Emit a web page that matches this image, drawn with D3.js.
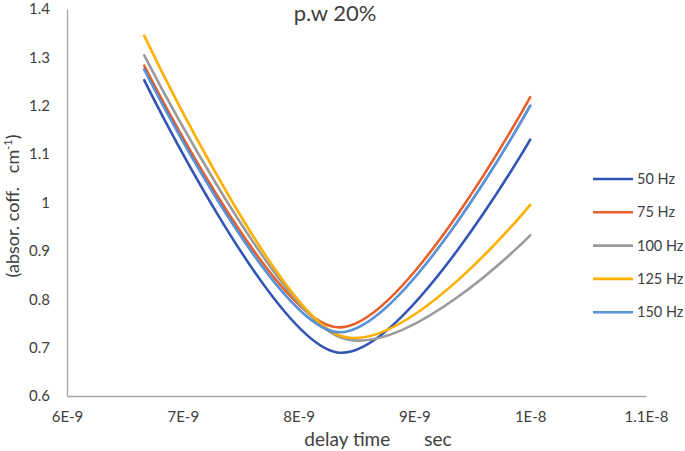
<!DOCTYPE html>
<html><head><meta charset="utf-8">
<script src="https://cdn.jsdelivr.net/npm/d3@7"></script>
<style>body{margin:0;background:#fff;font-family:Lato,"Open Sans",sans-serif;}</style>
</head><body><svg id="c" width="685" height="451"></svg>
<script>
const delays = [6.667e-9, 8.333e-9, 1e-8];
const seriesNames = ["50 Hz", "75 Hz", "100 Hz", "125 Hz", "150 Hz"];
const s50  = [1.253, 0.690, 1.130];
const s75  = [1.283, 0.742, 1.218];
const s100 = [1.304, 0.724, 0.932];
const s125 = [1.345, 0.727, 0.995];
const s150 = [1.275, 0.732, 1.200];
const colors = ["#3355b5", "#e8612c", "#9b9b9b", "#ffb000", "#4a7fd0"];
const xTicks = [6e-9, 7e-9, 8e-9, 9e-9, 1e-8, 1.1e-8];
const xTickLabels = ["6E-9", "7E-9", "8E-9", "9E-9", "1E-8", "1.1E-8"];
const yTicks = [0.6, 0.7, 0.8, 0.9, 1.0, 1.1, 1.2, 1.3, 1.4];
const yTickLabels = ["0.6", "0.7", "0.8", "0.9", "1", "1.1", "1.2", "1.3", "1.4"];

const allSeries = [s50, s75, s100, s125, s150];
const svg = d3.select("#c");
const x = d3.scaleLinear().domain([6e-9, 1.1e-8]).range([67, 646]);
const y = d3.scaleLinear().domain([0.6, 1.4]).range([396, 9]);
const F = "Lato, sans-serif";

// axes
const xAxis = d3.axisBottom(x).tickValues(xTicks).tickFormat((d, i) => xTickLabels[i]).tickSize(0).tickPadding(15);
const gx = svg.append("g").attr("transform", "translate(0,396)").call(xAxis);
gx.select(".domain").attr("stroke", "#a6a6a6").attr("stroke-width", 1.3);
gx.selectAll("text").attr("font-family", F).attr("font-size", 15).attr("fill", "#404040");

const yAxis = d3.axisLeft(y).tickValues(yTicks).tickFormat((d, i) => yTickLabels[i]).tickSize(0).tickPadding(17);
const gy = svg.append("g").attr("transform", "translate(67,0)").call(yAxis);
gy.select(".domain").attr("stroke", "#a6a6a6").attr("stroke-width", 1.3);
gy.selectAll("text").attr("font-family", F).attr("font-size", 15).attr("fill", "#404040");

// lines
const line = d3.line().x((d, i) => x(delays[i])).y(d => y(d)).curve(d3.curveCardinal.tension(0));
allSeries.forEach((s, k) => {
  svg.append("path").attr("d", line(s)).attr("fill", "none")
    .attr("stroke", colors[k]).attr("stroke-width", 2.6).attr("stroke-linecap", "round");
  if (k === 4) {
    svg.append("path").attr("d", line(s)).attr("fill", "none")
      .attr("stroke", "#5fa0dc").attr("stroke-width", 1.2);
  }
});

// title
svg.append("text").attr("x", 335).attr("y", 21).attr("text-anchor", "middle")
  .attr("font-family", F).attr("font-size", 22).attr("fill", "#404040").text("p.w 20%");

// x title
svg.append("text").attr("x", 378).attr("y", 446).attr("text-anchor", "middle")
  .attr("font-family", F).attr("font-size", 19).attr("fill", "#404040")
  .attr("xml:space", "preserve").text("delay time       sec");

// y title
const yt = svg.append("text").attr("transform", "translate(19,206) rotate(-90)").attr("text-anchor", "middle")
  .attr("font-family", F).attr("font-size", 18).attr("fill", "#404040").attr("xml:space", "preserve");
yt.append("tspan").text("(absor. coff.   cm");
yt.append("tspan").attr("font-size", 11).attr("dy", -7).text("-1");
yt.append("tspan").attr("dy", 7).text(")");

// legend
const leg = svg.append("g");
seriesNames.forEach((n, k) => {
  const ly = 179 + k * 33.3;
  leg.append("line").attr("x1", 593).attr("x2", 633).attr("y1", ly).attr("y2", ly)
    .attr("stroke", colors[k]).attr("stroke-width", 2.6);
  if (k === 4) leg.append("line").attr("x1", 593).attr("x2", 633).attr("y1", ly).attr("y2", ly)
    .attr("stroke", "#5fa0dc").attr("stroke-width", 1.2);
  leg.append("text").attr("x", 637).attr("y", ly + 5).attr("font-family", F)
    .attr("font-size", 14.5).attr("fill", "#404040").text(n);
});
</script></body></html>
